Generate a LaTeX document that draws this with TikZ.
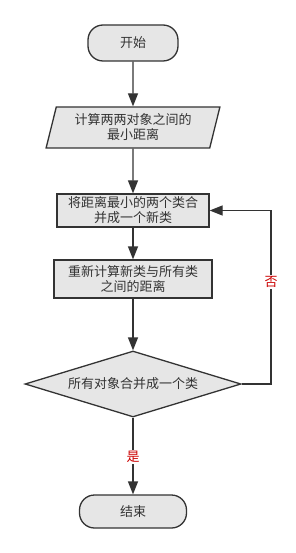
\documentclass[tikz,border=0pt]{standalone}
\usepackage{fontspec}
\newfontfamily\cjk{Noto Sans CJK SC}
\usetikzlibrary{arrows.meta,shapes.geometric}
\definecolor{boxfill}{RGB}{230,230,230}
\definecolor{ink}{RGB}{51,51,51}
\definecolor{answerred}{RGB}{204,0,0}
\tikzset{
  base/.style={draw=ink, fill=boxfill, line width=1.3pt, text=ink, align=center,
    font=\cjk\fontsize{13}{15}\selectfont, inner sep=0pt},
  terminal/.style={base, rounded corners=15pt},
  inout/.style={base, trapezium, trapezium stretches=true,
    trapezium left angle=74, trapezium right angle=106},
  process/.style={base, rectangle},
  decision/.style={base, diamond, aspect=3.27},
  flow/.style={-{Triangle[length=13pt,width=10pt]}, line width=1.3pt, draw=ink},
  answer/.style={fill=white, text=answerred, font=\cjk\fontsize{13}{15}\selectfont, inner sep=1pt},
}

\begin{document}
\begin{tikzpicture}[x=1pt,y=-1pt]
  \useasboundingbox (0,0) rectangle (296,553);

  % Main column of the flow chart.
  \node[terminal, minimum width=90pt, minimum height=36pt] (start) at (133,43) {开始};
  \node[inout, minimum width=174pt, minimum height=41pt] (dist) at (133,127.5)
    {计算两两对象之间的\\最小距离};
  \node[process, minimum width=152pt, minimum height=33pt] (merge) at (133,210.5)
    {将距离最小的两个类合\\并成一个新类};
  \node[process, minimum width=158pt, minimum height=38pt] (update) at (133,279)
    {重新计算新类与所有类\\之间的距离};
  \node[decision, minimum width=216pt, minimum height=66pt] (check) at (133,384)
    {所有对象合并成一个类};
  \node[terminal, minimum width=107pt, minimum height=33pt] (stop) at (133,511.5) {结束};

  \draw[flow] (start) -- (dist);
  \draw[flow] (dist) -- (merge);
  \draw[flow] (merge) -- (update);
  \draw[flow] (update) -- (check);
  \draw[flow] (check) -- (stop);

  % Loop back when not yet merged.
  \coordinate (loop) at (271,384);
  \draw[flow] (check.east) -- (loop) |- (merge.east);

  \node[answer] (no) at (271,282) {否};
  \node[answer] (yes) at (133,457) {是};

\end{tikzpicture}
\end{document}
